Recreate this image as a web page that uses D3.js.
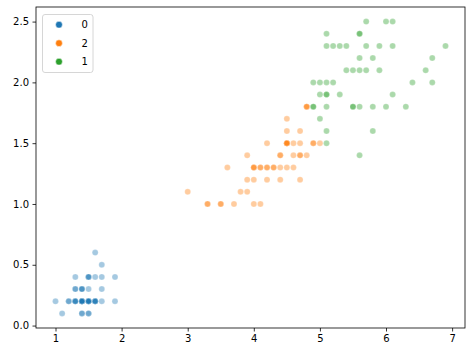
<!DOCTYPE html>
<html><head><meta charset="utf-8">
<script src="https://cdn.jsdelivr.net/npm/d3@7"></script>
<style>body{margin:0;background:#fff}svg{display:block}text{font-family:"DejaVu Sans",sans-serif}</style>
</head><body><svg id="c" width="474" height="357"></svg>
<script>
const petalLength = [
1.4,1.4,1.3,1.5,1.4,1.7,1.4,1.5,1.4,1.5,
1.5,1.6,1.4,1.1,1.2,1.5,1.3,1.4,1.7,1.5,
1.7,1.5,1.0,1.7,1.9,1.6,1.6,1.5,1.4,1.6,
1.6,1.5,1.5,1.4,1.5,1.2,1.3,1.4,1.3,1.5,
1.3,1.3,1.3,1.6,1.9,1.4,1.6,1.4,1.5,1.4,
4.7,4.5,4.9,4.0,4.6,4.5,4.7,3.3,4.6,3.9,
3.5,4.2,4.0,4.7,3.6,4.4,4.5,4.1,4.5,3.9,
4.8,4.0,4.9,4.7,4.3,4.4,4.8,5.0,4.5,3.5,
3.8,3.7,3.9,5.1,4.5,4.5,4.7,4.4,4.1,4.0,
4.4,4.6,4.0,3.3,4.2,4.2,4.2,4.3,3.0,4.1,
6.0,5.1,5.9,5.6,5.8,6.6,4.5,6.3,5.8,6.1,
5.1,5.3,5.5,5.0,5.1,5.3,5.5,6.7,6.9,5.0,
5.7,4.9,6.7,4.9,5.7,6.0,4.8,4.9,5.6,5.8,
6.1,6.4,5.6,5.1,5.6,6.1,5.6,5.5,4.8,5.4,
5.6,5.1,5.1,5.9,5.7,5.2,5.0,5.2,5.4,5.1];
const petalWidth = [
0.2,0.2,0.2,0.2,0.2,0.4,0.3,0.2,0.2,0.1,
0.2,0.2,0.1,0.1,0.2,0.4,0.4,0.3,0.3,0.3,
0.2,0.4,0.2,0.5,0.2,0.2,0.4,0.2,0.2,0.2,
0.2,0.4,0.1,0.2,0.2,0.2,0.2,0.1,0.2,0.2,
0.3,0.3,0.2,0.6,0.4,0.3,0.2,0.2,0.2,0.2,
1.4,1.5,1.5,1.3,1.5,1.3,1.6,1.0,1.3,1.4,
1.0,1.5,1.0,1.4,1.3,1.4,1.5,1.0,1.5,1.1,
1.8,1.3,1.5,1.2,1.3,1.4,1.4,1.7,1.5,1.0,
1.1,1.0,1.2,1.6,1.5,1.6,1.5,1.3,1.3,1.3,
1.2,1.4,1.2,1.0,1.3,1.2,1.3,1.3,1.1,1.3,
2.5,1.9,2.1,1.8,2.2,2.1,1.7,1.8,1.8,2.5,
2.0,1.9,2.1,2.0,2.4,2.3,1.8,2.2,2.3,1.5,
2.3,2.0,2.0,1.8,2.1,1.8,1.8,1.8,2.1,1.6,
1.9,2.0,2.2,1.5,1.4,2.3,2.4,1.8,1.8,2.1,
2.4,2.3,1.9,2.3,2.5,2.3,1.9,2.0,2.3,1.8];
const cluster = [
0,0,0,0,0,0,0,0,0,0, 0,0,0,0,0,0,0,0,0,0, 0,0,0,0,0,0,0,0,0,0,
0,0,0,0,0,0,0,0,0,0, 0,0,0,0,0,0,0,0,0,0,
2,2,2,2,2,2,2,2,2,2, 2,2,2,2,2,2,2,2,2,2, 2,2,2,2,2,2,2,1,2,2,
2,2,2,1,2,2,2,2,2,2, 2,2,2,2,2,2,2,2,2,2,
1,1,1,1,1,1,2,1,1,1, 1,1,1,1,1,1,1,1,1,2, 1,1,1,1,1,1,2,1,1,1,
1,1,1,1,1,1,1,1,2,1, 1,1,1,1,1,1,1,1,1,1];
const legendOrder = [0, 2, 1];
const palette = ["#1f77b4", "#ff7f0e", "#2ca02c"];
const xTicks = [1, 2, 3, 4, 5, 6, 7];
const yTicks = [0.0, 0.5, 1.0, 1.5, 2.0, 2.5];

const svg = d3.select("#c");
const L = 36, R = 465, T = 7, B = 328;
const x = d3.scaleLinear().domain([0.705, 7.195]).range([L, R]);
const y = d3.scaleLinear().domain([-0.02, 2.62]).range([B, T]);
const color = d3.scaleOrdinal().domain(legendOrder).range(palette);

const pts = petalLength.map((v, i) => ({x: v, y: petalWidth[i], c: cluster[i]}));
svg.append("g").selectAll("circle").data(pts).join("circle")
  .attr("cx", d => x(d.x)).attr("cy", d => y(d.y)).attr("r", 3)
  .attr("fill", d => color(d.c)).attr("fill-opacity", 0.4)
  .attr("stroke", "#fff").attr("stroke-width", 0.5).attr("stroke-opacity", 0.4);

const fmt = d3.format(".1f");
const xa = svg.append("g").attr("transform", `translate(0,${B})`)
  .call(d3.axisBottom(x).tickValues(xTicks).tickSize(3.5).tickPadding(3.5).tickFormat(d3.format("d")));
const ya = svg.append("g").attr("transform", `translate(${L},0)`)
  .call(d3.axisLeft(y).tickValues(yTicks).tickSize(3.5).tickPadding(3.5).tickFormat(fmt));
[xa, ya].forEach(a => {
  a.select(".domain").remove();
  a.selectAll("line").attr("stroke", "#000").attr("stroke-width", 0.8);
  a.selectAll("text").attr("font-size", 10).attr("fill", "#000").attr("font-family", "DejaVu Sans");
});
svg.append("rect").attr("x", L).attr("y", T).attr("width", R - L).attr("height", B - T)
  .attr("fill", "none").attr("stroke", "#000").attr("stroke-width", 0.8);

const lg = svg.append("g");
lg.append("rect").attr("x", 42.5).attr("y", 14.5).attr("width", 50.5).attr("height", 58).attr("rx", 2.5)
  .attr("fill", "#fff").attr("fill-opacity", 0.8).attr("stroke", "#cccccc").attr("stroke-width", 0.8);
legendOrder.forEach((k, i) => {
  const cy = 24.7 + i * 18.5;
  lg.append("circle").attr("cx", 59).attr("cy", cy).attr("r", 3.4).attr("fill", color(k))
    .attr("stroke", "#fff").attr("stroke-width", 0.5);
  lg.append("text").attr("x", 81.5).attr("y", cy + 3.6).attr("font-size", 10).attr("fill", "#000").text(String(k));
});
</script></body></html>
